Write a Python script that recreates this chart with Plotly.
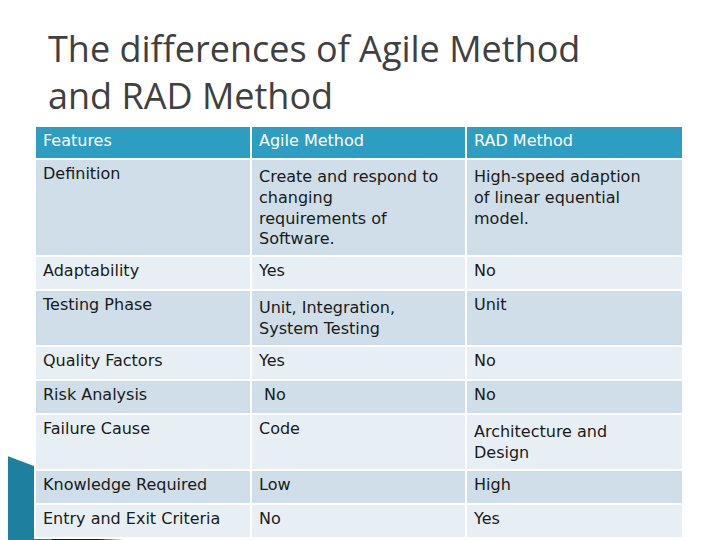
import plotly.graph_objects as go

headers = ["Features", "Agile Method", "RAD Method"]
features = ["Definition", "Adaptability", "Testing Phase", "Quality Factors", "Risk Analysis",
            "Failure Cause", "Knowledge Required", "Entry and Exit Criteria"]
agile = ["Create and respond to<br>changing<br>requirements of<br>Software.", "Yes",
         "Unit, Integration,<br>System Testing", "Yes", " No", "Code", "Low", "No"]
rad = ["High-speed adaption<br>of linear equential<br>model.", "No", "Unit", "No", "No",
       "Architecture and<br>Design", "High", "Yes"]

dark, light = "#cfdee8", "#e8eff4"
row_fill = [dark if i % 2 == 0 else light for i in range(len(features))]

fig = go.Figure(go.Table(
    domain=dict(x=[27 / 720, 675 / 720], y=[0, 1 - 118 / 540]),
    columnwidth=[216, 215, 217],
    header=dict(values=headers, fill_color="#2e9dc2", align="left", height=33,
                line=dict(color="white", width=2),
                font=dict(color="white", size=16, family="DejaVu Sans")),
    cells=dict(values=[features, agile, rad], fill_color=[row_fill] * 3, align="left",
               height=34, line=dict(color="white", width=2),
               font=dict(color="#1a1a1a", size=16, family="DejaVu Sans")),
))

# decorative arrow at bottom left
fig.add_shape(type="path", xref="paper", yref="paper",
              path="M 0 0.17 L 0.06 0.14 L 0.06 0 L 0 0 Z",
              fillcolor="#1f7f9f", line_width=0, layer="below")
fig.add_shape(type="path", xref="paper", yref="paper",
              path="M 0.06 0.02 L 0.45 0 L 0.06 0 Z",
              fillcolor="#1b1b1b", line_width=0, layer="below")
fig.add_shape(type="path", xref="paper", yref="paper",
              path="M 0.45 0.01 L 0.75 0 L 0.45 0 Z",
              fillcolor="#b8dcea", line_width=0, layer="below")

fig.add_annotation(text="The differences of Agile Method<br>and RAD Method", xref="paper", yref="paper",
                   x=38 / 720, y=1 - 14 / 540, xanchor="left", yanchor="top", align="left",
                   showarrow=False, font=dict(size=36, color="#404040", family="Open Sans"))

fig.update_layout(width=720, height=540, margin=dict(l=0, r=0, t=0, b=0),
                  paper_bgcolor="white", plot_bgcolor="white")
fig.write_html("out.html")
